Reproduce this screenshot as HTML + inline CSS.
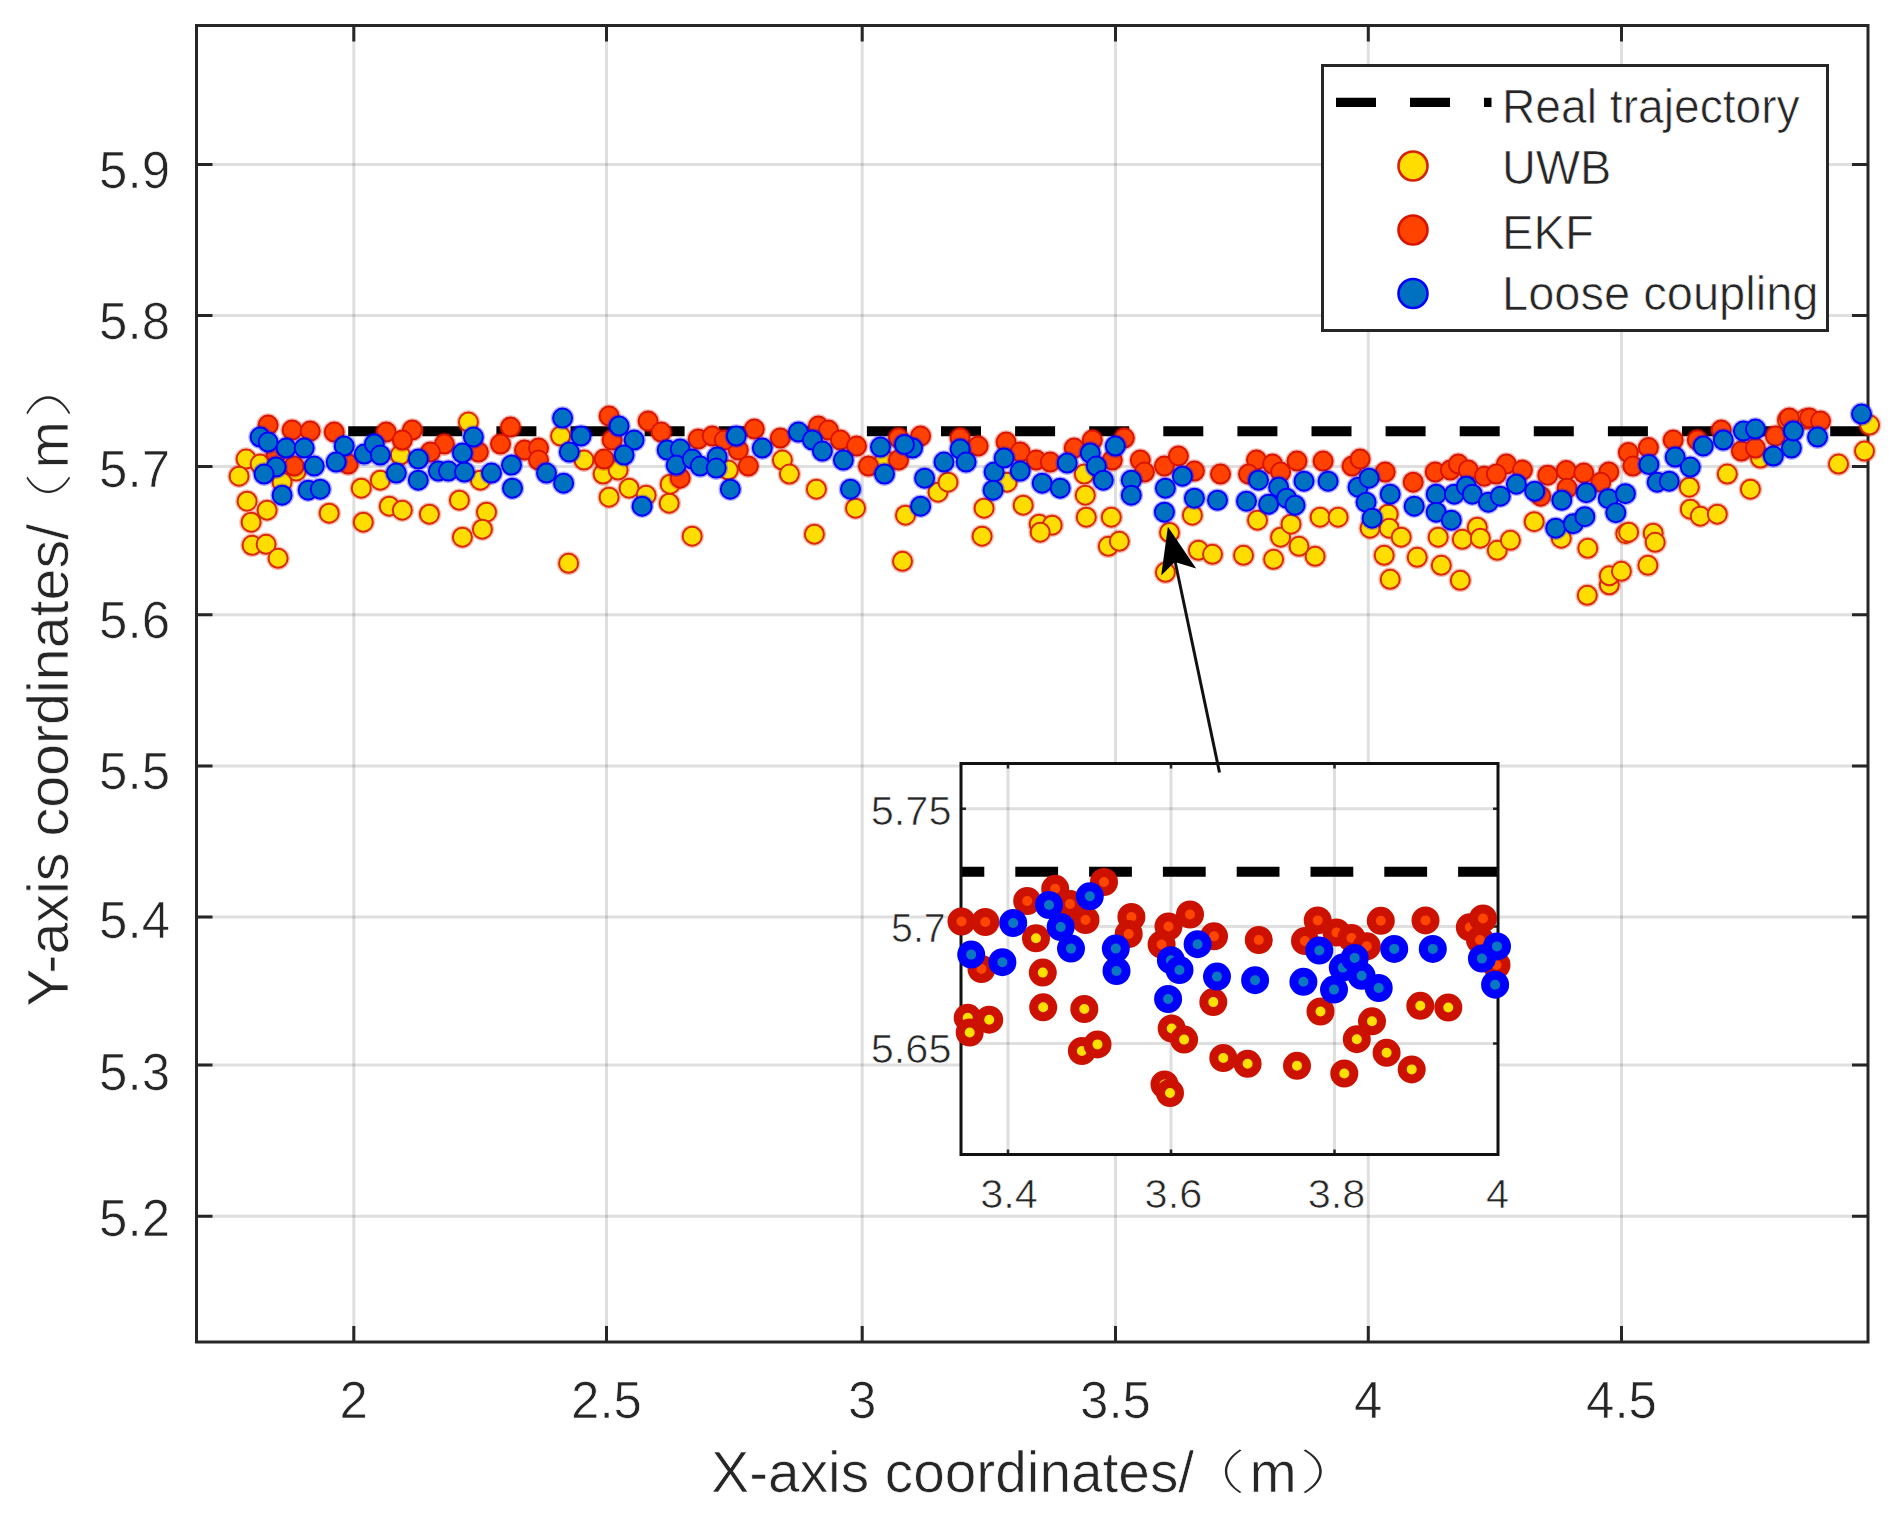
<!DOCTYPE html><html><head><meta charset="utf-8"><style>html,body{margin:0;padding:0;background:#fff;}svg{display:block;}#w{width:1897px;height:1524px;overflow:hidden;}text{font-family:"Liberation Sans",Arial,"Noto Sans CJK SC",sans-serif;fill:#262626;}</style></head><body>
<div id="w">
<svg width="1897" height="1524" viewBox="0 0 1897 1524">
<rect x="0" y="0" width="1897" height="1524" fill="#fff"/>
<path d="M353.8 25.5V1342M606.5 25.5V1342M862.2 25.5V1342M1115.5 25.5V1342M1368.3 25.5V1342M1621.5 25.5V1342" stroke="#262626" stroke-opacity="0.15" stroke-width="3" fill="none"/>
<path d="M196.5 164.4H1868M196.5 315.5H1868M196.5 466.5H1868M196.5 614.7H1868M196.5 765.9H1868M196.5 916.9H1868M196.5 1065.1H1868M196.5 1216.3H1868" stroke="#262626" stroke-opacity="0.15" stroke-width="3" fill="none"/>
<path d="M353.8 25.5v16M353.8 1342v-16M606.5 25.5v16M606.5 1342v-16M862.2 25.5v16M862.2 1342v-16M1115.5 25.5v16M1115.5 1342v-16M1368.3 25.5v16M1368.3 1342v-16M1621.5 25.5v16M1621.5 1342v-16M196.5 164.4h16M1868 164.4h-16M196.5 315.5h16M1868 315.5h-16M196.5 466.5h16M1868 466.5h-16M196.5 614.7h16M1868 614.7h-16M196.5 765.9h16M1868 765.9h-16M196.5 916.9h16M1868 916.9h-16M196.5 1065.1h16M1868 1065.1h-16M196.5 1216.3h16M1868 1216.3h-16" stroke="#262626" stroke-width="3" fill="none"/>
<line x1="348.2" y1="431.2" x2="1868" y2="431.2" stroke="#000" stroke-width="10" stroke-dasharray="40 34.1"/>
<rect x="196.5" y="25.5" width="1671.5" height="1316.5" fill="none" stroke="#262626" stroke-width="3"/>
<g fill="#dc2800" opacity="0.3"><circle cx="246.1" cy="459.1" r="11.8"/><circle cx="239.1" cy="476.2" r="11.8"/><circle cx="260.1" cy="464.1" r="11.8"/><circle cx="296.2" cy="471.1" r="11.8"/><circle cx="282.1" cy="482.2" r="11.8"/><circle cx="247.1" cy="501.2" r="11.8"/><circle cx="267.1" cy="510.2" r="11.8"/><circle cx="251.1" cy="522.2" r="11.8"/><circle cx="252.1" cy="545.3" r="11.8"/><circle cx="266.1" cy="544.3" r="11.8"/><circle cx="278.1" cy="558.3" r="11.8"/><circle cx="329.2" cy="513.2" r="11.8"/><circle cx="361.3" cy="488.2" r="11.8"/><circle cx="380.3" cy="480.2" r="11.8"/><circle cx="363.3" cy="522.2" r="11.8"/><circle cx="389.3" cy="506.2" r="11.8"/><circle cx="402.3" cy="510.2" r="11.8"/><circle cx="429.4" cy="514.2" r="11.8"/><circle cx="459.4" cy="500.2" r="11.8"/><circle cx="486.5" cy="512.2" r="11.8"/><circle cx="482.4" cy="529.2" r="11.8"/><circle cx="462.4" cy="537.2" r="11.8"/><circle cx="480.4" cy="480.2" r="11.8"/><circle cx="400.3" cy="455.1" r="11.8"/><circle cx="468.4" cy="422.1" r="11.8"/><circle cx="560.6" cy="436.1" r="11.8"/><circle cx="568.6" cy="563.3" r="11.8"/><circle cx="584.0" cy="460.1" r="11.8"/><circle cx="603.1" cy="474.1" r="11.8"/><circle cx="618.1" cy="470.1" r="11.8"/><circle cx="609.1" cy="497.2" r="11.8"/><circle cx="629.1" cy="488.2" r="11.8"/><circle cx="646.1" cy="495.2" r="11.8"/><circle cx="669.2" cy="503.2" r="11.8"/><circle cx="670.2" cy="484.2" r="11.8"/><circle cx="692.2" cy="536.2" r="11.8"/><circle cx="728.3" cy="470.1" r="11.8"/><circle cx="782.4" cy="460.1" r="11.8"/><circle cx="789.4" cy="474.1" r="11.8"/><circle cx="816.4" cy="489.2" r="11.8"/><circle cx="814.4" cy="534.2" r="11.8"/><circle cx="855.5" cy="508.2" r="11.8"/><circle cx="905.5" cy="515.2" r="11.8"/><circle cx="902.5" cy="561.3" r="11.8"/><circle cx="884.5" cy="460.1" r="11.8"/><circle cx="938.0" cy="492.2" r="11.8"/><circle cx="948.0" cy="482.2" r="11.8"/><circle cx="1007.1" cy="482.2" r="11.8"/><circle cx="984.1" cy="508.2" r="11.8"/><circle cx="982.1" cy="536.2" r="11.8"/><circle cx="1023.2" cy="505.2" r="11.8"/><circle cx="1039.2" cy="524.2" r="11.8"/><circle cx="1052.2" cy="525.2" r="11.8"/><circle cx="1040.2" cy="532.2" r="11.8"/><circle cx="1084.3" cy="474.1" r="11.8"/><circle cx="1085.3" cy="495.2" r="11.8"/><circle cx="1086.3" cy="517.2" r="11.8"/><circle cx="1111.3" cy="517.2" r="11.8"/><circle cx="1108.3" cy="546.3" r="11.8"/><circle cx="1119.3" cy="541.3" r="11.8"/><circle cx="1169.5" cy="532.5" r="11.8"/><circle cx="1165.4" cy="572.3" r="11.8"/><circle cx="1192.4" cy="515.2" r="11.8"/><circle cx="1198.4" cy="550.3" r="11.8"/><circle cx="1212.5" cy="554.3" r="11.8"/><circle cx="1243.5" cy="555.3" r="11.8"/><circle cx="1257.5" cy="520.2" r="11.8"/><circle cx="1273.6" cy="559.3" r="11.8"/><circle cx="1280.6" cy="537.2" r="11.8"/><circle cx="1291.0" cy="524.2" r="11.8"/><circle cx="1299.0" cy="546.3" r="11.8"/><circle cx="1315.1" cy="556.3" r="11.8"/><circle cx="1320.1" cy="517.2" r="11.8"/><circle cx="1338.1" cy="517.2" r="11.8"/><circle cx="1370.1" cy="528.2" r="11.8"/><circle cx="1388.2" cy="514.2" r="11.8"/><circle cx="1389.2" cy="528.2" r="11.8"/><circle cx="1401.2" cy="537.2" r="11.8"/><circle cx="1384.2" cy="555.3" r="11.8"/><circle cx="1390.2" cy="579.3" r="11.8"/><circle cx="1417.2" cy="557.3" r="11.8"/><circle cx="1438.2" cy="537.2" r="11.8"/><circle cx="1441.3" cy="565.3" r="11.8"/><circle cx="1460.3" cy="580.3" r="11.8"/><circle cx="1462.3" cy="539.3" r="11.8"/><circle cx="1477.3" cy="527.2" r="11.8"/><circle cx="1480.3" cy="538.2" r="11.8"/><circle cx="1497.3" cy="550.3" r="11.8"/><circle cx="1510.4" cy="540.3" r="11.8"/><circle cx="1534.2" cy="521.7" r="11.8"/><circle cx="1561.3" cy="538.2" r="11.8"/><circle cx="1587.8" cy="548.3" r="11.8"/><circle cx="1587.3" cy="595.3" r="11.8"/><circle cx="1609.3" cy="584.8" r="11.8"/><circle cx="1609.3" cy="575.8" r="11.8"/><circle cx="1621.4" cy="571.3" r="11.8"/><circle cx="1625.8" cy="533.7" r="11.8"/><circle cx="1628.6" cy="532.2" r="11.8"/><circle cx="1647.9" cy="565.3" r="11.8"/><circle cx="1653.2" cy="533.2" r="11.8"/><circle cx="1655.2" cy="542.3" r="11.8"/><circle cx="1689.3" cy="487.2" r="11.8"/><circle cx="1690.3" cy="509.2" r="11.8"/><circle cx="1700.3" cy="516.2" r="11.8"/><circle cx="1717.3" cy="514.2" r="11.8"/><circle cx="1727.3" cy="474.1" r="11.8"/><circle cx="1750.4" cy="489.2" r="11.8"/><circle cx="1760.4" cy="458.1" r="11.8"/><circle cx="1805.5" cy="419.1" r="11.8"/><circle cx="1787.4" cy="420.1" r="11.8"/><circle cx="1838.5" cy="464.1" r="11.8"/><circle cx="1864.5" cy="451.1" r="11.8"/><circle cx="1869.6" cy="425.1" r="11.8"/></g><g fill="#ffdd00" stroke="#dc2800" stroke-width="2.0"><circle cx="246.1" cy="459.1" r="9.5"/><circle cx="239.1" cy="476.2" r="9.5"/><circle cx="260.1" cy="464.1" r="9.5"/><circle cx="296.2" cy="471.1" r="9.5"/><circle cx="282.1" cy="482.2" r="9.5"/><circle cx="247.1" cy="501.2" r="9.5"/><circle cx="267.1" cy="510.2" r="9.5"/><circle cx="251.1" cy="522.2" r="9.5"/><circle cx="252.1" cy="545.3" r="9.5"/><circle cx="266.1" cy="544.3" r="9.5"/><circle cx="278.1" cy="558.3" r="9.5"/><circle cx="329.2" cy="513.2" r="9.5"/><circle cx="361.3" cy="488.2" r="9.5"/><circle cx="380.3" cy="480.2" r="9.5"/><circle cx="363.3" cy="522.2" r="9.5"/><circle cx="389.3" cy="506.2" r="9.5"/><circle cx="402.3" cy="510.2" r="9.5"/><circle cx="429.4" cy="514.2" r="9.5"/><circle cx="459.4" cy="500.2" r="9.5"/><circle cx="486.5" cy="512.2" r="9.5"/><circle cx="482.4" cy="529.2" r="9.5"/><circle cx="462.4" cy="537.2" r="9.5"/><circle cx="480.4" cy="480.2" r="9.5"/><circle cx="400.3" cy="455.1" r="9.5"/><circle cx="468.4" cy="422.1" r="9.5"/><circle cx="560.6" cy="436.1" r="9.5"/><circle cx="568.6" cy="563.3" r="9.5"/><circle cx="584.0" cy="460.1" r="9.5"/><circle cx="603.1" cy="474.1" r="9.5"/><circle cx="618.1" cy="470.1" r="9.5"/><circle cx="609.1" cy="497.2" r="9.5"/><circle cx="629.1" cy="488.2" r="9.5"/><circle cx="646.1" cy="495.2" r="9.5"/><circle cx="669.2" cy="503.2" r="9.5"/><circle cx="670.2" cy="484.2" r="9.5"/><circle cx="692.2" cy="536.2" r="9.5"/><circle cx="728.3" cy="470.1" r="9.5"/><circle cx="782.4" cy="460.1" r="9.5"/><circle cx="789.4" cy="474.1" r="9.5"/><circle cx="816.4" cy="489.2" r="9.5"/><circle cx="814.4" cy="534.2" r="9.5"/><circle cx="855.5" cy="508.2" r="9.5"/><circle cx="905.5" cy="515.2" r="9.5"/><circle cx="902.5" cy="561.3" r="9.5"/><circle cx="884.5" cy="460.1" r="9.5"/><circle cx="938.0" cy="492.2" r="9.5"/><circle cx="948.0" cy="482.2" r="9.5"/><circle cx="1007.1" cy="482.2" r="9.5"/><circle cx="984.1" cy="508.2" r="9.5"/><circle cx="982.1" cy="536.2" r="9.5"/><circle cx="1023.2" cy="505.2" r="9.5"/><circle cx="1039.2" cy="524.2" r="9.5"/><circle cx="1052.2" cy="525.2" r="9.5"/><circle cx="1040.2" cy="532.2" r="9.5"/><circle cx="1084.3" cy="474.1" r="9.5"/><circle cx="1085.3" cy="495.2" r="9.5"/><circle cx="1086.3" cy="517.2" r="9.5"/><circle cx="1111.3" cy="517.2" r="9.5"/><circle cx="1108.3" cy="546.3" r="9.5"/><circle cx="1119.3" cy="541.3" r="9.5"/><circle cx="1169.5" cy="532.5" r="9.5"/><circle cx="1165.4" cy="572.3" r="9.5"/><circle cx="1192.4" cy="515.2" r="9.5"/><circle cx="1198.4" cy="550.3" r="9.5"/><circle cx="1212.5" cy="554.3" r="9.5"/><circle cx="1243.5" cy="555.3" r="9.5"/><circle cx="1257.5" cy="520.2" r="9.5"/><circle cx="1273.6" cy="559.3" r="9.5"/><circle cx="1280.6" cy="537.2" r="9.5"/><circle cx="1291.0" cy="524.2" r="9.5"/><circle cx="1299.0" cy="546.3" r="9.5"/><circle cx="1315.1" cy="556.3" r="9.5"/><circle cx="1320.1" cy="517.2" r="9.5"/><circle cx="1338.1" cy="517.2" r="9.5"/><circle cx="1370.1" cy="528.2" r="9.5"/><circle cx="1388.2" cy="514.2" r="9.5"/><circle cx="1389.2" cy="528.2" r="9.5"/><circle cx="1401.2" cy="537.2" r="9.5"/><circle cx="1384.2" cy="555.3" r="9.5"/><circle cx="1390.2" cy="579.3" r="9.5"/><circle cx="1417.2" cy="557.3" r="9.5"/><circle cx="1438.2" cy="537.2" r="9.5"/><circle cx="1441.3" cy="565.3" r="9.5"/><circle cx="1460.3" cy="580.3" r="9.5"/><circle cx="1462.3" cy="539.3" r="9.5"/><circle cx="1477.3" cy="527.2" r="9.5"/><circle cx="1480.3" cy="538.2" r="9.5"/><circle cx="1497.3" cy="550.3" r="9.5"/><circle cx="1510.4" cy="540.3" r="9.5"/><circle cx="1534.2" cy="521.7" r="9.5"/><circle cx="1561.3" cy="538.2" r="9.5"/><circle cx="1587.8" cy="548.3" r="9.5"/><circle cx="1587.3" cy="595.3" r="9.5"/><circle cx="1609.3" cy="584.8" r="9.5"/><circle cx="1609.3" cy="575.8" r="9.5"/><circle cx="1621.4" cy="571.3" r="9.5"/><circle cx="1625.8" cy="533.7" r="9.5"/><circle cx="1628.6" cy="532.2" r="9.5"/><circle cx="1647.9" cy="565.3" r="9.5"/><circle cx="1653.2" cy="533.2" r="9.5"/><circle cx="1655.2" cy="542.3" r="9.5"/><circle cx="1689.3" cy="487.2" r="9.5"/><circle cx="1690.3" cy="509.2" r="9.5"/><circle cx="1700.3" cy="516.2" r="9.5"/><circle cx="1717.3" cy="514.2" r="9.5"/><circle cx="1727.3" cy="474.1" r="9.5"/><circle cx="1750.4" cy="489.2" r="9.5"/><circle cx="1760.4" cy="458.1" r="9.5"/><circle cx="1805.5" cy="419.1" r="9.5"/><circle cx="1787.4" cy="420.1" r="9.5"/><circle cx="1838.5" cy="464.1" r="9.5"/><circle cx="1864.5" cy="451.1" r="9.5"/><circle cx="1869.6" cy="425.1" r="9.5"/></g>
<g fill="#d81400" opacity="0.3"><circle cx="268.1" cy="425.1" r="11.8"/><circle cx="292.1" cy="430.1" r="11.8"/><circle cx="310.2" cy="431.1" r="11.8"/><circle cx="334.2" cy="432.1" r="11.8"/><circle cx="386.3" cy="432.1" r="11.8"/><circle cx="412.3" cy="430.1" r="11.8"/><circle cx="402.3" cy="440.1" r="11.8"/><circle cx="444.4" cy="444.1" r="11.8"/><circle cx="430.4" cy="452.1" r="11.8"/><circle cx="478.4" cy="452.1" r="11.8"/><circle cx="510.5" cy="427.1" r="11.8"/><circle cx="500.5" cy="444.1" r="11.8"/><circle cx="524.5" cy="450.1" r="11.8"/><circle cx="538.5" cy="448.1" r="11.8"/><circle cx="538.5" cy="460.1" r="11.8"/><circle cx="348.2" cy="464.1" r="11.8"/><circle cx="294.1" cy="466.1" r="11.8"/><circle cx="276.1" cy="454.1" r="11.8"/><circle cx="609.1" cy="416.1" r="11.8"/><circle cx="648.1" cy="421.1" r="11.8"/><circle cx="661.2" cy="432.1" r="11.8"/><circle cx="612.1" cy="440.1" r="11.8"/><circle cx="604.1" cy="459.1" r="11.8"/><circle cx="698.2" cy="439.1" r="11.8"/><circle cx="712.2" cy="436.1" r="11.8"/><circle cx="754.3" cy="429.1" r="11.8"/><circle cx="738.3" cy="450.1" r="11.8"/><circle cx="748.3" cy="466.1" r="11.8"/><circle cx="780.3" cy="438.1" r="11.8"/><circle cx="818.4" cy="426.1" r="11.8"/><circle cx="828.4" cy="430.1" r="11.8"/><circle cx="840.4" cy="440.1" r="11.8"/><circle cx="856.5" cy="446.1" r="11.8"/><circle cx="868.5" cy="466.1" r="11.8"/><circle cx="898.5" cy="438.1" r="11.8"/><circle cx="920.6" cy="436.1" r="11.8"/><circle cx="898.5" cy="460.1" r="11.8"/><circle cx="680.2" cy="478.2" r="11.8"/><circle cx="724.3" cy="440.1" r="11.8"/><circle cx="960.1" cy="438.1" r="11.8"/><circle cx="978.1" cy="446.1" r="11.8"/><circle cx="1006.1" cy="442.1" r="11.8"/><circle cx="1020.2" cy="452.1" r="11.8"/><circle cx="1036.2" cy="460.1" r="11.8"/><circle cx="1050.2" cy="462.1" r="11.8"/><circle cx="1074.2" cy="448.1" r="11.8"/><circle cx="1092.3" cy="440.1" r="11.8"/><circle cx="1112.3" cy="460.1" r="11.8"/><circle cx="1124.3" cy="438.1" r="11.8"/><circle cx="1140.3" cy="460.1" r="11.8"/><circle cx="1144.4" cy="472.1" r="11.8"/><circle cx="1164.4" cy="466.1" r="11.8"/><circle cx="1178.4" cy="456.1" r="11.8"/><circle cx="1194.4" cy="471.1" r="11.8"/><circle cx="1220.5" cy="474.1" r="11.8"/><circle cx="1256.5" cy="460.1" r="11.8"/><circle cx="1248.5" cy="474.1" r="11.8"/><circle cx="1272.6" cy="464.1" r="11.8"/><circle cx="1280.6" cy="472.1" r="11.8"/><circle cx="1297.0" cy="461.1" r="11.8"/><circle cx="1323.1" cy="461.1" r="11.8"/><circle cx="1352.1" cy="466.1" r="11.8"/><circle cx="1360.1" cy="459.1" r="11.8"/><circle cx="1385.2" cy="472.1" r="11.8"/><circle cx="1413.2" cy="482.2" r="11.8"/><circle cx="1435.2" cy="472.1" r="11.8"/><circle cx="1450.3" cy="470.1" r="11.8"/><circle cx="1458.3" cy="464.1" r="11.8"/><circle cx="1468.3" cy="470.1" r="11.8"/><circle cx="1484.3" cy="476.2" r="11.8"/><circle cx="1506.4" cy="464.1" r="11.8"/><circle cx="1522.4" cy="470.1" r="11.8"/><circle cx="1496.3" cy="474.1" r="11.8"/><circle cx="1547.7" cy="475.2" r="11.8"/><circle cx="1566.3" cy="470.6" r="11.8"/><circle cx="1583.8" cy="473.1" r="11.8"/><circle cx="1608.8" cy="472.1" r="11.8"/><circle cx="1600.8" cy="482.2" r="11.8"/><circle cx="1628.4" cy="452.6" r="11.8"/><circle cx="1648.4" cy="447.6" r="11.8"/><circle cx="1632.9" cy="466.1" r="11.8"/><circle cx="1540.7" cy="496.2" r="11.8"/><circle cx="1567.1" cy="488.2" r="11.8"/><circle cx="1673.2" cy="440.1" r="11.8"/><circle cx="1697.3" cy="440.1" r="11.8"/><circle cx="1721.3" cy="430.1" r="11.8"/><circle cx="1741.4" cy="451.1" r="11.8"/><circle cx="1755.4" cy="448.1" r="11.8"/><circle cx="1775.4" cy="436.1" r="11.8"/><circle cx="1789.4" cy="418.1" r="11.8"/><circle cx="1809.5" cy="418.1" r="11.8"/><circle cx="1820.5" cy="421.1" r="11.8"/></g><g fill="#ff4200" stroke="#d81400" stroke-width="2.0"><circle cx="268.1" cy="425.1" r="9.5"/><circle cx="292.1" cy="430.1" r="9.5"/><circle cx="310.2" cy="431.1" r="9.5"/><circle cx="334.2" cy="432.1" r="9.5"/><circle cx="386.3" cy="432.1" r="9.5"/><circle cx="412.3" cy="430.1" r="9.5"/><circle cx="402.3" cy="440.1" r="9.5"/><circle cx="444.4" cy="444.1" r="9.5"/><circle cx="430.4" cy="452.1" r="9.5"/><circle cx="478.4" cy="452.1" r="9.5"/><circle cx="510.5" cy="427.1" r="9.5"/><circle cx="500.5" cy="444.1" r="9.5"/><circle cx="524.5" cy="450.1" r="9.5"/><circle cx="538.5" cy="448.1" r="9.5"/><circle cx="538.5" cy="460.1" r="9.5"/><circle cx="348.2" cy="464.1" r="9.5"/><circle cx="294.1" cy="466.1" r="9.5"/><circle cx="276.1" cy="454.1" r="9.5"/><circle cx="609.1" cy="416.1" r="9.5"/><circle cx="648.1" cy="421.1" r="9.5"/><circle cx="661.2" cy="432.1" r="9.5"/><circle cx="612.1" cy="440.1" r="9.5"/><circle cx="604.1" cy="459.1" r="9.5"/><circle cx="698.2" cy="439.1" r="9.5"/><circle cx="712.2" cy="436.1" r="9.5"/><circle cx="754.3" cy="429.1" r="9.5"/><circle cx="738.3" cy="450.1" r="9.5"/><circle cx="748.3" cy="466.1" r="9.5"/><circle cx="780.3" cy="438.1" r="9.5"/><circle cx="818.4" cy="426.1" r="9.5"/><circle cx="828.4" cy="430.1" r="9.5"/><circle cx="840.4" cy="440.1" r="9.5"/><circle cx="856.5" cy="446.1" r="9.5"/><circle cx="868.5" cy="466.1" r="9.5"/><circle cx="898.5" cy="438.1" r="9.5"/><circle cx="920.6" cy="436.1" r="9.5"/><circle cx="898.5" cy="460.1" r="9.5"/><circle cx="680.2" cy="478.2" r="9.5"/><circle cx="724.3" cy="440.1" r="9.5"/><circle cx="960.1" cy="438.1" r="9.5"/><circle cx="978.1" cy="446.1" r="9.5"/><circle cx="1006.1" cy="442.1" r="9.5"/><circle cx="1020.2" cy="452.1" r="9.5"/><circle cx="1036.2" cy="460.1" r="9.5"/><circle cx="1050.2" cy="462.1" r="9.5"/><circle cx="1074.2" cy="448.1" r="9.5"/><circle cx="1092.3" cy="440.1" r="9.5"/><circle cx="1112.3" cy="460.1" r="9.5"/><circle cx="1124.3" cy="438.1" r="9.5"/><circle cx="1140.3" cy="460.1" r="9.5"/><circle cx="1144.4" cy="472.1" r="9.5"/><circle cx="1164.4" cy="466.1" r="9.5"/><circle cx="1178.4" cy="456.1" r="9.5"/><circle cx="1194.4" cy="471.1" r="9.5"/><circle cx="1220.5" cy="474.1" r="9.5"/><circle cx="1256.5" cy="460.1" r="9.5"/><circle cx="1248.5" cy="474.1" r="9.5"/><circle cx="1272.6" cy="464.1" r="9.5"/><circle cx="1280.6" cy="472.1" r="9.5"/><circle cx="1297.0" cy="461.1" r="9.5"/><circle cx="1323.1" cy="461.1" r="9.5"/><circle cx="1352.1" cy="466.1" r="9.5"/><circle cx="1360.1" cy="459.1" r="9.5"/><circle cx="1385.2" cy="472.1" r="9.5"/><circle cx="1413.2" cy="482.2" r="9.5"/><circle cx="1435.2" cy="472.1" r="9.5"/><circle cx="1450.3" cy="470.1" r="9.5"/><circle cx="1458.3" cy="464.1" r="9.5"/><circle cx="1468.3" cy="470.1" r="9.5"/><circle cx="1484.3" cy="476.2" r="9.5"/><circle cx="1506.4" cy="464.1" r="9.5"/><circle cx="1522.4" cy="470.1" r="9.5"/><circle cx="1496.3" cy="474.1" r="9.5"/><circle cx="1547.7" cy="475.2" r="9.5"/><circle cx="1566.3" cy="470.6" r="9.5"/><circle cx="1583.8" cy="473.1" r="9.5"/><circle cx="1608.8" cy="472.1" r="9.5"/><circle cx="1600.8" cy="482.2" r="9.5"/><circle cx="1628.4" cy="452.6" r="9.5"/><circle cx="1648.4" cy="447.6" r="9.5"/><circle cx="1632.9" cy="466.1" r="9.5"/><circle cx="1540.7" cy="496.2" r="9.5"/><circle cx="1567.1" cy="488.2" r="9.5"/><circle cx="1673.2" cy="440.1" r="9.5"/><circle cx="1697.3" cy="440.1" r="9.5"/><circle cx="1721.3" cy="430.1" r="9.5"/><circle cx="1741.4" cy="451.1" r="9.5"/><circle cx="1755.4" cy="448.1" r="9.5"/><circle cx="1775.4" cy="436.1" r="9.5"/><circle cx="1789.4" cy="418.1" r="9.5"/><circle cx="1809.5" cy="418.1" r="9.5"/><circle cx="1820.5" cy="421.1" r="9.5"/></g>
<g fill="#0000ff" opacity="0.3"><circle cx="260.1" cy="437.1" r="11.8"/><circle cx="268.1" cy="442.1" r="11.8"/><circle cx="286.1" cy="448.1" r="11.8"/><circle cx="304.2" cy="448.1" r="11.8"/><circle cx="344.2" cy="446.1" r="11.8"/><circle cx="336.2" cy="462.1" r="11.8"/><circle cx="314.2" cy="466.1" r="11.8"/><circle cx="276.1" cy="467.1" r="11.8"/><circle cx="264.1" cy="474.1" r="11.8"/><circle cx="282.1" cy="495.2" r="11.8"/><circle cx="308.2" cy="490.2" r="11.8"/><circle cx="320.2" cy="489.2" r="11.8"/><circle cx="364.3" cy="454.1" r="11.8"/><circle cx="374.3" cy="444.1" r="11.8"/><circle cx="380.3" cy="455.1" r="11.8"/><circle cx="418.3" cy="459.1" r="11.8"/><circle cx="396.3" cy="473.1" r="11.8"/><circle cx="418.3" cy="480.2" r="11.8"/><circle cx="438.4" cy="471.1" r="11.8"/><circle cx="448.4" cy="471.1" r="11.8"/><circle cx="462.4" cy="453.1" r="11.8"/><circle cx="464.4" cy="472.1" r="11.8"/><circle cx="473.4" cy="437.1" r="11.8"/><circle cx="491.5" cy="473.1" r="11.8"/><circle cx="511.5" cy="465.1" r="11.8"/><circle cx="512.5" cy="488.2" r="11.8"/><circle cx="546.5" cy="473.1" r="11.8"/><circle cx="563.6" cy="483.2" r="11.8"/><circle cx="562.6" cy="418.1" r="11.8"/><circle cx="569.3" cy="452.1" r="11.8"/><circle cx="581.0" cy="436.1" r="11.8"/><circle cx="619.1" cy="426.1" r="11.8"/><circle cx="634.1" cy="440.1" r="11.8"/><circle cx="624.1" cy="455.1" r="11.8"/><circle cx="642.1" cy="506.2" r="11.8"/><circle cx="667.2" cy="450.1" r="11.8"/><circle cx="680.2" cy="449.1" r="11.8"/><circle cx="676.2" cy="465.1" r="11.8"/><circle cx="692.2" cy="459.1" r="11.8"/><circle cx="700.2" cy="466.1" r="11.8"/><circle cx="717.2" cy="457.1" r="11.8"/><circle cx="716.2" cy="468.1" r="11.8"/><circle cx="736.3" cy="436.1" r="11.8"/><circle cx="730.3" cy="489.2" r="11.8"/><circle cx="762.3" cy="448.1" r="11.8"/><circle cx="798.4" cy="432.1" r="11.8"/><circle cx="812.4" cy="440.1" r="11.8"/><circle cx="822.4" cy="451.1" r="11.8"/><circle cx="843.4" cy="460.1" r="11.8"/><circle cx="850.5" cy="489.2" r="11.8"/><circle cx="880.5" cy="447.1" r="11.8"/><circle cx="884.5" cy="474.1" r="11.8"/><circle cx="912.6" cy="448.1" r="11.8"/><circle cx="924.6" cy="478.2" r="11.8"/><circle cx="920.6" cy="506.2" r="11.8"/><circle cx="944.0" cy="462.1" r="11.8"/><circle cx="960.1" cy="449.1" r="11.8"/><circle cx="966.1" cy="462.1" r="11.8"/><circle cx="994.1" cy="472.1" r="11.8"/><circle cx="1004.1" cy="458.1" r="11.8"/><circle cx="993.1" cy="490.2" r="11.8"/><circle cx="1020.2" cy="471.1" r="11.8"/><circle cx="1042.2" cy="483.2" r="11.8"/><circle cx="1060.2" cy="488.2" r="11.8"/><circle cx="1067.2" cy="463.1" r="11.8"/><circle cx="1090.3" cy="453.1" r="11.8"/><circle cx="1096.3" cy="466.1" r="11.8"/><circle cx="1103.3" cy="480.2" r="11.8"/><circle cx="1115.3" cy="446.1" r="11.8"/><circle cx="1131.3" cy="480.2" r="11.8"/><circle cx="1131.3" cy="495.2" r="11.8"/><circle cx="1165.4" cy="488.2" r="11.8"/><circle cx="1182.4" cy="476.2" r="11.8"/><circle cx="1164.4" cy="512.2" r="11.8"/><circle cx="1194.4" cy="498.2" r="11.8"/><circle cx="1217.5" cy="500.2" r="11.8"/><circle cx="1246.5" cy="501.2" r="11.8"/><circle cx="1258.5" cy="480.2" r="11.8"/><circle cx="1268.6" cy="504.2" r="11.8"/><circle cx="1278.6" cy="487.2" r="11.8"/><circle cx="1286.6" cy="498.2" r="11.8"/><circle cx="1295.0" cy="505.2" r="11.8"/><circle cx="1304.0" cy="481.2" r="11.8"/><circle cx="1328.1" cy="481.2" r="11.8"/><circle cx="1358.1" cy="487.2" r="11.8"/><circle cx="1369.1" cy="478.2" r="11.8"/><circle cx="1366.1" cy="502.2" r="11.8"/><circle cx="1372.1" cy="518.2" r="11.8"/><circle cx="1390.2" cy="494.2" r="11.8"/><circle cx="1414.2" cy="506.2" r="11.8"/><circle cx="1436.2" cy="494.2" r="11.8"/><circle cx="1436.2" cy="512.2" r="11.8"/><circle cx="1451.3" cy="520.2" r="11.8"/><circle cx="1454.3" cy="494.2" r="11.8"/><circle cx="1466.3" cy="486.2" r="11.8"/><circle cx="1472.3" cy="494.2" r="11.8"/><circle cx="1488.3" cy="502.2" r="11.8"/><circle cx="1500.3" cy="496.2" r="11.8"/><circle cx="1516.4" cy="484.2" r="11.8"/><circle cx="1534.7" cy="491.2" r="11.8"/><circle cx="1561.8" cy="500.2" r="11.8"/><circle cx="1555.7" cy="528.2" r="11.8"/><circle cx="1573.3" cy="523.7" r="11.8"/><circle cx="1584.8" cy="516.7" r="11.8"/><circle cx="1586.3" cy="492.7" r="11.8"/><circle cx="1608.3" cy="498.7" r="11.8"/><circle cx="1615.8" cy="512.7" r="11.8"/><circle cx="1625.4" cy="493.7" r="11.8"/><circle cx="1648.9" cy="464.6" r="11.8"/><circle cx="1657.2" cy="482.2" r="11.8"/><circle cx="1669.2" cy="481.2" r="11.8"/><circle cx="1675.2" cy="457.1" r="11.8"/><circle cx="1690.3" cy="467.1" r="11.8"/><circle cx="1703.3" cy="446.1" r="11.8"/><circle cx="1723.3" cy="440.1" r="11.8"/><circle cx="1743.4" cy="431.1" r="11.8"/><circle cx="1755.4" cy="429.1" r="11.8"/><circle cx="1773.4" cy="456.1" r="11.8"/><circle cx="1791.4" cy="448.1" r="11.8"/><circle cx="1793.4" cy="431.1" r="11.8"/><circle cx="1817.5" cy="437.1" r="11.8"/><circle cx="1861.5" cy="414.1" r="11.8"/><circle cx="904.5" cy="444.5" r="11.8"/></g><g fill="#0070c0" stroke="#0000ff" stroke-width="2.0"><circle cx="260.1" cy="437.1" r="9.5"/><circle cx="268.1" cy="442.1" r="9.5"/><circle cx="286.1" cy="448.1" r="9.5"/><circle cx="304.2" cy="448.1" r="9.5"/><circle cx="344.2" cy="446.1" r="9.5"/><circle cx="336.2" cy="462.1" r="9.5"/><circle cx="314.2" cy="466.1" r="9.5"/><circle cx="276.1" cy="467.1" r="9.5"/><circle cx="264.1" cy="474.1" r="9.5"/><circle cx="282.1" cy="495.2" r="9.5"/><circle cx="308.2" cy="490.2" r="9.5"/><circle cx="320.2" cy="489.2" r="9.5"/><circle cx="364.3" cy="454.1" r="9.5"/><circle cx="374.3" cy="444.1" r="9.5"/><circle cx="380.3" cy="455.1" r="9.5"/><circle cx="418.3" cy="459.1" r="9.5"/><circle cx="396.3" cy="473.1" r="9.5"/><circle cx="418.3" cy="480.2" r="9.5"/><circle cx="438.4" cy="471.1" r="9.5"/><circle cx="448.4" cy="471.1" r="9.5"/><circle cx="462.4" cy="453.1" r="9.5"/><circle cx="464.4" cy="472.1" r="9.5"/><circle cx="473.4" cy="437.1" r="9.5"/><circle cx="491.5" cy="473.1" r="9.5"/><circle cx="511.5" cy="465.1" r="9.5"/><circle cx="512.5" cy="488.2" r="9.5"/><circle cx="546.5" cy="473.1" r="9.5"/><circle cx="563.6" cy="483.2" r="9.5"/><circle cx="562.6" cy="418.1" r="9.5"/><circle cx="569.3" cy="452.1" r="9.5"/><circle cx="581.0" cy="436.1" r="9.5"/><circle cx="619.1" cy="426.1" r="9.5"/><circle cx="634.1" cy="440.1" r="9.5"/><circle cx="624.1" cy="455.1" r="9.5"/><circle cx="642.1" cy="506.2" r="9.5"/><circle cx="667.2" cy="450.1" r="9.5"/><circle cx="680.2" cy="449.1" r="9.5"/><circle cx="676.2" cy="465.1" r="9.5"/><circle cx="692.2" cy="459.1" r="9.5"/><circle cx="700.2" cy="466.1" r="9.5"/><circle cx="717.2" cy="457.1" r="9.5"/><circle cx="716.2" cy="468.1" r="9.5"/><circle cx="736.3" cy="436.1" r="9.5"/><circle cx="730.3" cy="489.2" r="9.5"/><circle cx="762.3" cy="448.1" r="9.5"/><circle cx="798.4" cy="432.1" r="9.5"/><circle cx="812.4" cy="440.1" r="9.5"/><circle cx="822.4" cy="451.1" r="9.5"/><circle cx="843.4" cy="460.1" r="9.5"/><circle cx="850.5" cy="489.2" r="9.5"/><circle cx="880.5" cy="447.1" r="9.5"/><circle cx="884.5" cy="474.1" r="9.5"/><circle cx="912.6" cy="448.1" r="9.5"/><circle cx="924.6" cy="478.2" r="9.5"/><circle cx="920.6" cy="506.2" r="9.5"/><circle cx="944.0" cy="462.1" r="9.5"/><circle cx="960.1" cy="449.1" r="9.5"/><circle cx="966.1" cy="462.1" r="9.5"/><circle cx="994.1" cy="472.1" r="9.5"/><circle cx="1004.1" cy="458.1" r="9.5"/><circle cx="993.1" cy="490.2" r="9.5"/><circle cx="1020.2" cy="471.1" r="9.5"/><circle cx="1042.2" cy="483.2" r="9.5"/><circle cx="1060.2" cy="488.2" r="9.5"/><circle cx="1067.2" cy="463.1" r="9.5"/><circle cx="1090.3" cy="453.1" r="9.5"/><circle cx="1096.3" cy="466.1" r="9.5"/><circle cx="1103.3" cy="480.2" r="9.5"/><circle cx="1115.3" cy="446.1" r="9.5"/><circle cx="1131.3" cy="480.2" r="9.5"/><circle cx="1131.3" cy="495.2" r="9.5"/><circle cx="1165.4" cy="488.2" r="9.5"/><circle cx="1182.4" cy="476.2" r="9.5"/><circle cx="1164.4" cy="512.2" r="9.5"/><circle cx="1194.4" cy="498.2" r="9.5"/><circle cx="1217.5" cy="500.2" r="9.5"/><circle cx="1246.5" cy="501.2" r="9.5"/><circle cx="1258.5" cy="480.2" r="9.5"/><circle cx="1268.6" cy="504.2" r="9.5"/><circle cx="1278.6" cy="487.2" r="9.5"/><circle cx="1286.6" cy="498.2" r="9.5"/><circle cx="1295.0" cy="505.2" r="9.5"/><circle cx="1304.0" cy="481.2" r="9.5"/><circle cx="1328.1" cy="481.2" r="9.5"/><circle cx="1358.1" cy="487.2" r="9.5"/><circle cx="1369.1" cy="478.2" r="9.5"/><circle cx="1366.1" cy="502.2" r="9.5"/><circle cx="1372.1" cy="518.2" r="9.5"/><circle cx="1390.2" cy="494.2" r="9.5"/><circle cx="1414.2" cy="506.2" r="9.5"/><circle cx="1436.2" cy="494.2" r="9.5"/><circle cx="1436.2" cy="512.2" r="9.5"/><circle cx="1451.3" cy="520.2" r="9.5"/><circle cx="1454.3" cy="494.2" r="9.5"/><circle cx="1466.3" cy="486.2" r="9.5"/><circle cx="1472.3" cy="494.2" r="9.5"/><circle cx="1488.3" cy="502.2" r="9.5"/><circle cx="1500.3" cy="496.2" r="9.5"/><circle cx="1516.4" cy="484.2" r="9.5"/><circle cx="1534.7" cy="491.2" r="9.5"/><circle cx="1561.8" cy="500.2" r="9.5"/><circle cx="1555.7" cy="528.2" r="9.5"/><circle cx="1573.3" cy="523.7" r="9.5"/><circle cx="1584.8" cy="516.7" r="9.5"/><circle cx="1586.3" cy="492.7" r="9.5"/><circle cx="1608.3" cy="498.7" r="9.5"/><circle cx="1615.8" cy="512.7" r="9.5"/><circle cx="1625.4" cy="493.7" r="9.5"/><circle cx="1648.9" cy="464.6" r="9.5"/><circle cx="1657.2" cy="482.2" r="9.5"/><circle cx="1669.2" cy="481.2" r="9.5"/><circle cx="1675.2" cy="457.1" r="9.5"/><circle cx="1690.3" cy="467.1" r="9.5"/><circle cx="1703.3" cy="446.1" r="9.5"/><circle cx="1723.3" cy="440.1" r="9.5"/><circle cx="1743.4" cy="431.1" r="9.5"/><circle cx="1755.4" cy="429.1" r="9.5"/><circle cx="1773.4" cy="456.1" r="9.5"/><circle cx="1791.4" cy="448.1" r="9.5"/><circle cx="1793.4" cy="431.1" r="9.5"/><circle cx="1817.5" cy="437.1" r="9.5"/><circle cx="1861.5" cy="414.1" r="9.5"/><circle cx="904.5" cy="444.5" r="9.5"/></g>
<text x="353.8" y="1418" font-size="51" text-anchor="middle" stroke="#fff" stroke-width="0.7">2</text>
<text x="606.5" y="1418" font-size="51" text-anchor="middle" stroke="#fff" stroke-width="0.7">2.5</text>
<text x="862.2" y="1418" font-size="51" text-anchor="middle" stroke="#fff" stroke-width="0.7">3</text>
<text x="1115.5" y="1418" font-size="51" text-anchor="middle" stroke="#fff" stroke-width="0.7">3.5</text>
<text x="1368.3" y="1418" font-size="51" text-anchor="middle" stroke="#fff" stroke-width="0.7">4</text>
<text x="1621.5" y="1418" font-size="51" text-anchor="middle" stroke="#fff" stroke-width="0.7">4.5</text>
<text x="170" y="187.7" font-size="51" text-anchor="end" stroke="#fff" stroke-width="0.7">5.9</text>
<text x="170" y="338.9" font-size="51" text-anchor="end" stroke="#fff" stroke-width="0.7">5.8</text>
<text x="170" y="487.1" font-size="51" text-anchor="end" stroke="#fff" stroke-width="0.7">5.7</text>
<text x="170" y="638.3" font-size="51" text-anchor="end" stroke="#fff" stroke-width="0.7">5.6</text>
<text x="170" y="789.2" font-size="51" text-anchor="end" stroke="#fff" stroke-width="0.7">5.5</text>
<text x="170" y="938" font-size="51" text-anchor="end" stroke="#fff" stroke-width="0.7">5.4</text>
<text x="170" y="1089.6" font-size="51" text-anchor="end" stroke="#fff" stroke-width="0.7">5.3</text>
<text x="170" y="1236.1" font-size="51" text-anchor="end" stroke="#fff" stroke-width="0.7">5.2</text>
<g transform="translate(713.4,1491.7)"><text x="-2.1" y="0" font-size="56.7" textLength="482.8" lengthAdjust="spacingAndGlyphs" stroke="#fff" stroke-width="0.7">X-axis coordinates/</text><text transform="translate(458.18,-2.43) scale(1.59,1)" font-size="46.2" style="font-family:Liberation Sans,Noto Sans CJK SC,sans-serif;font-weight:100">（</text><text x="536.06" y="0" font-size="56.7" stroke="#fff" stroke-width="0.7">m</text><text transform="translate(586.46,-2.43) scale(1.75,1)" font-size="46.2" style="font-family:Liberation Sans,Noto Sans CJK SC,sans-serif;font-weight:100">）</text></g>
<g transform="translate(68,1004.6) rotate(-90)"><text x="-2.1" y="0" font-size="56.7" textLength="482.8" lengthAdjust="spacingAndGlyphs" stroke="#fff" stroke-width="0.7">Y-axis coordinates/</text><text transform="translate(458.18,-2.43) scale(1.59,1)" font-size="46.2" style="font-family:Liberation Sans,Noto Sans CJK SC,sans-serif;font-weight:100">（</text><text x="536.06" y="0" font-size="56.7" stroke="#fff" stroke-width="0.7">m</text><text transform="translate(586.46,-2.43) scale(1.75,1)" font-size="46.2" style="font-family:Liberation Sans,Noto Sans CJK SC,sans-serif;font-weight:100">）</text></g>
<rect x="961" y="763.5" width="537" height="391.0" fill="#fff"/>
<path d="M1008.0 763.5V1154.5M1171.0 763.5V1154.5M1334.5 763.5V1154.5" stroke="#262626" stroke-opacity="0.15" stroke-width="3" fill="none"/>
<path d="M961 808.7H1498M961 926.5H1498M961 1043.5H1498" stroke="#262626" stroke-opacity="0.15" stroke-width="3" fill="none"/>
<path d="M1008.0 763.5v5M1008.0 1154.5v-5M1171.0 763.5v5M1171.0 1154.5v-5M1334.5 763.5v5M1334.5 1154.5v-5M961 808.7h5M1498 808.7h-5M961 926.5h5M1498 926.5h-5M961 1043.5h5M1498 1043.5h-5" stroke="#262626" stroke-width="2.5" fill="none"/>
<clipPath id="ic"><rect x="961" y="763.5" width="537" height="391.0"/></clipPath>
<line x1="941.5" y1="871.7" x2="1498" y2="871.7" stroke="#000" stroke-width="10" stroke-dasharray="42.8 31" clip-path="url(#ic)"/>
<rect x="961" y="763.5" width="537" height="391.0" fill="none" stroke="#111" stroke-width="3"/>
<g fill="#ffe000" stroke="#cc1100" stroke-width="9"><circle cx="1036" cy="938.3" r="9.5"/><circle cx="1042.8" cy="972.6" r="9.5"/><circle cx="1043.2" cy="1007.3" r="9.5"/><circle cx="1084.3" cy="1009" r="9.5"/><circle cx="967.7" cy="1017.8" r="9.5"/><circle cx="989.2" cy="1019.7" r="9.5"/><circle cx="969.7" cy="1032.5" r="9.5"/><circle cx="1081.9" cy="1051" r="9.5"/><circle cx="1097.5" cy="1044.4" r="9.5"/><circle cx="1171.7" cy="1028.5" r="9.5"/><circle cx="1184.1" cy="1039.6" r="9.5"/><circle cx="1213.3" cy="1002.1" r="9.5"/><circle cx="1223.3" cy="1058" r="9.5"/><circle cx="1247.6" cy="1063.8" r="9.5"/><circle cx="1297" cy="1065.8" r="9.5"/><circle cx="1320.5" cy="1011.5" r="9.5"/><circle cx="1372" cy="1021.3" r="9.5"/><circle cx="1356.8" cy="1039.2" r="9.5"/><circle cx="1420.3" cy="1005.8" r="9.5"/><circle cx="1448.3" cy="1007.5" r="9.5"/><circle cx="1386.6" cy="1052.8" r="9.5"/><circle cx="1411.7" cy="1069.4" r="9.5"/><circle cx="1344.3" cy="1073.5" r="9.5"/><circle cx="1164.5" cy="1084.5" r="9.5"/><circle cx="1170" cy="1093" r="9.5"/></g>
<g fill="#ff4500" stroke="#cc1100" stroke-width="9"><circle cx="961.5" cy="921.5" r="9.5"/><circle cx="985.3" cy="922" r="9.5"/><circle cx="1027.2" cy="901" r="9.5"/><circle cx="1055.2" cy="888.8" r="9.5"/><circle cx="1070" cy="904" r="9.5"/><circle cx="1085.5" cy="920" r="9.5"/><circle cx="1104" cy="882" r="9.5"/><circle cx="1131.4" cy="917" r="9.5"/><circle cx="1128.7" cy="934" r="9.5"/><circle cx="1168.5" cy="926.5" r="9.5"/><circle cx="1190" cy="914.5" r="9.5"/><circle cx="1214" cy="936.3" r="9.5"/><circle cx="1161.6" cy="944.5" r="9.5"/><circle cx="981.5" cy="969" r="9.5"/><circle cx="1258.8" cy="940" r="9.5"/><circle cx="1317.7" cy="920.4" r="9.5"/><circle cx="1336.5" cy="932.5" r="9.5"/><circle cx="1305" cy="941" r="9.5"/><circle cx="1351.5" cy="938" r="9.5"/><circle cx="1366.8" cy="946.3" r="9.5"/><circle cx="1380.8" cy="920.8" r="9.5"/><circle cx="1425.5" cy="920.4" r="9.5"/><circle cx="1469.8" cy="927.3" r="9.5"/><circle cx="1483" cy="918.5" r="9.5"/><circle cx="1496.5" cy="965" r="9.5"/><circle cx="1480" cy="940" r="9.5"/></g>
<g fill="#0a78c0" stroke="#0000ff" stroke-width="9"><circle cx="1013.2" cy="923" r="9.5"/><circle cx="1049" cy="905" r="9.5"/><circle cx="1060.7" cy="927" r="9.5"/><circle cx="1071" cy="948.6" r="9.5"/><circle cx="1089.8" cy="896.3" r="9.5"/><circle cx="971.2" cy="954.6" r="9.5"/><circle cx="1002.4" cy="962.2" r="9.5"/><circle cx="1115.8" cy="948.6" r="9.5"/><circle cx="1116.5" cy="971" r="9.5"/><circle cx="1170.9" cy="960.2" r="9.5"/><circle cx="1179.5" cy="970" r="9.5"/><circle cx="1197.6" cy="944.2" r="9.5"/><circle cx="1217" cy="976.6" r="9.5"/><circle cx="1168.1" cy="999" r="9.5"/><circle cx="1255.1" cy="980.2" r="9.5"/><circle cx="1303.4" cy="981.8" r="9.5"/><circle cx="1319.3" cy="950.5" r="9.5"/><circle cx="1342.8" cy="967.6" r="9.5"/><circle cx="1354.7" cy="957.9" r="9.5"/><circle cx="1361.6" cy="975.8" r="9.5"/><circle cx="1334" cy="989.6" r="9.5"/><circle cx="1378.7" cy="988" r="9.5"/><circle cx="1394.2" cy="948.9" r="9.5"/><circle cx="1432.8" cy="948.9" r="9.5"/><circle cx="1481.9" cy="958.6" r="9.5"/><circle cx="1497" cy="946.4" r="9.5"/><circle cx="1495.1" cy="984.7" r="9.5"/></g>
<text x="1009.1" y="1207.5" font-size="41.5" text-anchor="middle" stroke="#fff" stroke-width="0.7">3.4</text>
<text x="1173.4" y="1207.5" font-size="41.5" text-anchor="middle" stroke="#fff" stroke-width="0.7">3.6</text>
<text x="1336.5" y="1207.5" font-size="41.5" text-anchor="middle" stroke="#fff" stroke-width="0.7">3.8</text>
<text x="1497.5" y="1207.5" font-size="41.5" text-anchor="middle" stroke="#fff" stroke-width="0.7">4</text>
<text x="951.5" y="825.3" font-size="41.5" text-anchor="end" stroke="#fff" stroke-width="0.7">5.75</text>
<text x="945.6" y="942.3" font-size="41.5" text-anchor="end" textLength="54.5" lengthAdjust="spacingAndGlyphs" stroke="#fff" stroke-width="0.7">5.7</text>
<text x="951.5" y="1063" font-size="41.5" text-anchor="end" stroke="#fff" stroke-width="0.7">5.65</text>
<line x1="1219.5" y1="772.5" x2="1175" y2="561" stroke="#111" stroke-width="3"/>
<path d="M1167.9 526.8 L1196.2 568.6 L1174.8 562 L1161.2 575.5 Z" fill="#000"/>
<rect x="1322.5" y="65.5" width="505" height="265" fill="#fff" stroke="#262626" stroke-width="3"/>
<path d="M1336 102.4h40M1410 102.4h40M1484 102.4h7.5" stroke="#000" stroke-width="9.2"/>
<circle cx="1413" cy="166" r="14.5" fill="#ffdd00" stroke="#d82000" stroke-width="2.6"/>
<circle cx="1413" cy="230" r="14.5" fill="#ff4200" stroke="#d81400" stroke-width="2.6"/>
<circle cx="1413" cy="293.5" r="14.5" fill="#0070c0" stroke="#0000ff" stroke-width="2.6"/>
<text x="1502" y="123" font-size="48" textLength="297.7" lengthAdjust="spacingAndGlyphs" stroke="#fff" stroke-width="0.7">Real trajectory</text>
<text x="1502" y="184" font-size="48" textLength="109.4" lengthAdjust="spacingAndGlyphs" stroke="#fff" stroke-width="0.7">UWB</text>
<text x="1502" y="248.5" font-size="48" textLength="91.9" lengthAdjust="spacingAndGlyphs" stroke="#fff" stroke-width="0.7">EKF</text>
<text x="1502" y="310.3" font-size="48" textLength="316.5" lengthAdjust="spacingAndGlyphs" stroke="#fff" stroke-width="0.7">Loose coupling</text>
</svg></div></body></html>
